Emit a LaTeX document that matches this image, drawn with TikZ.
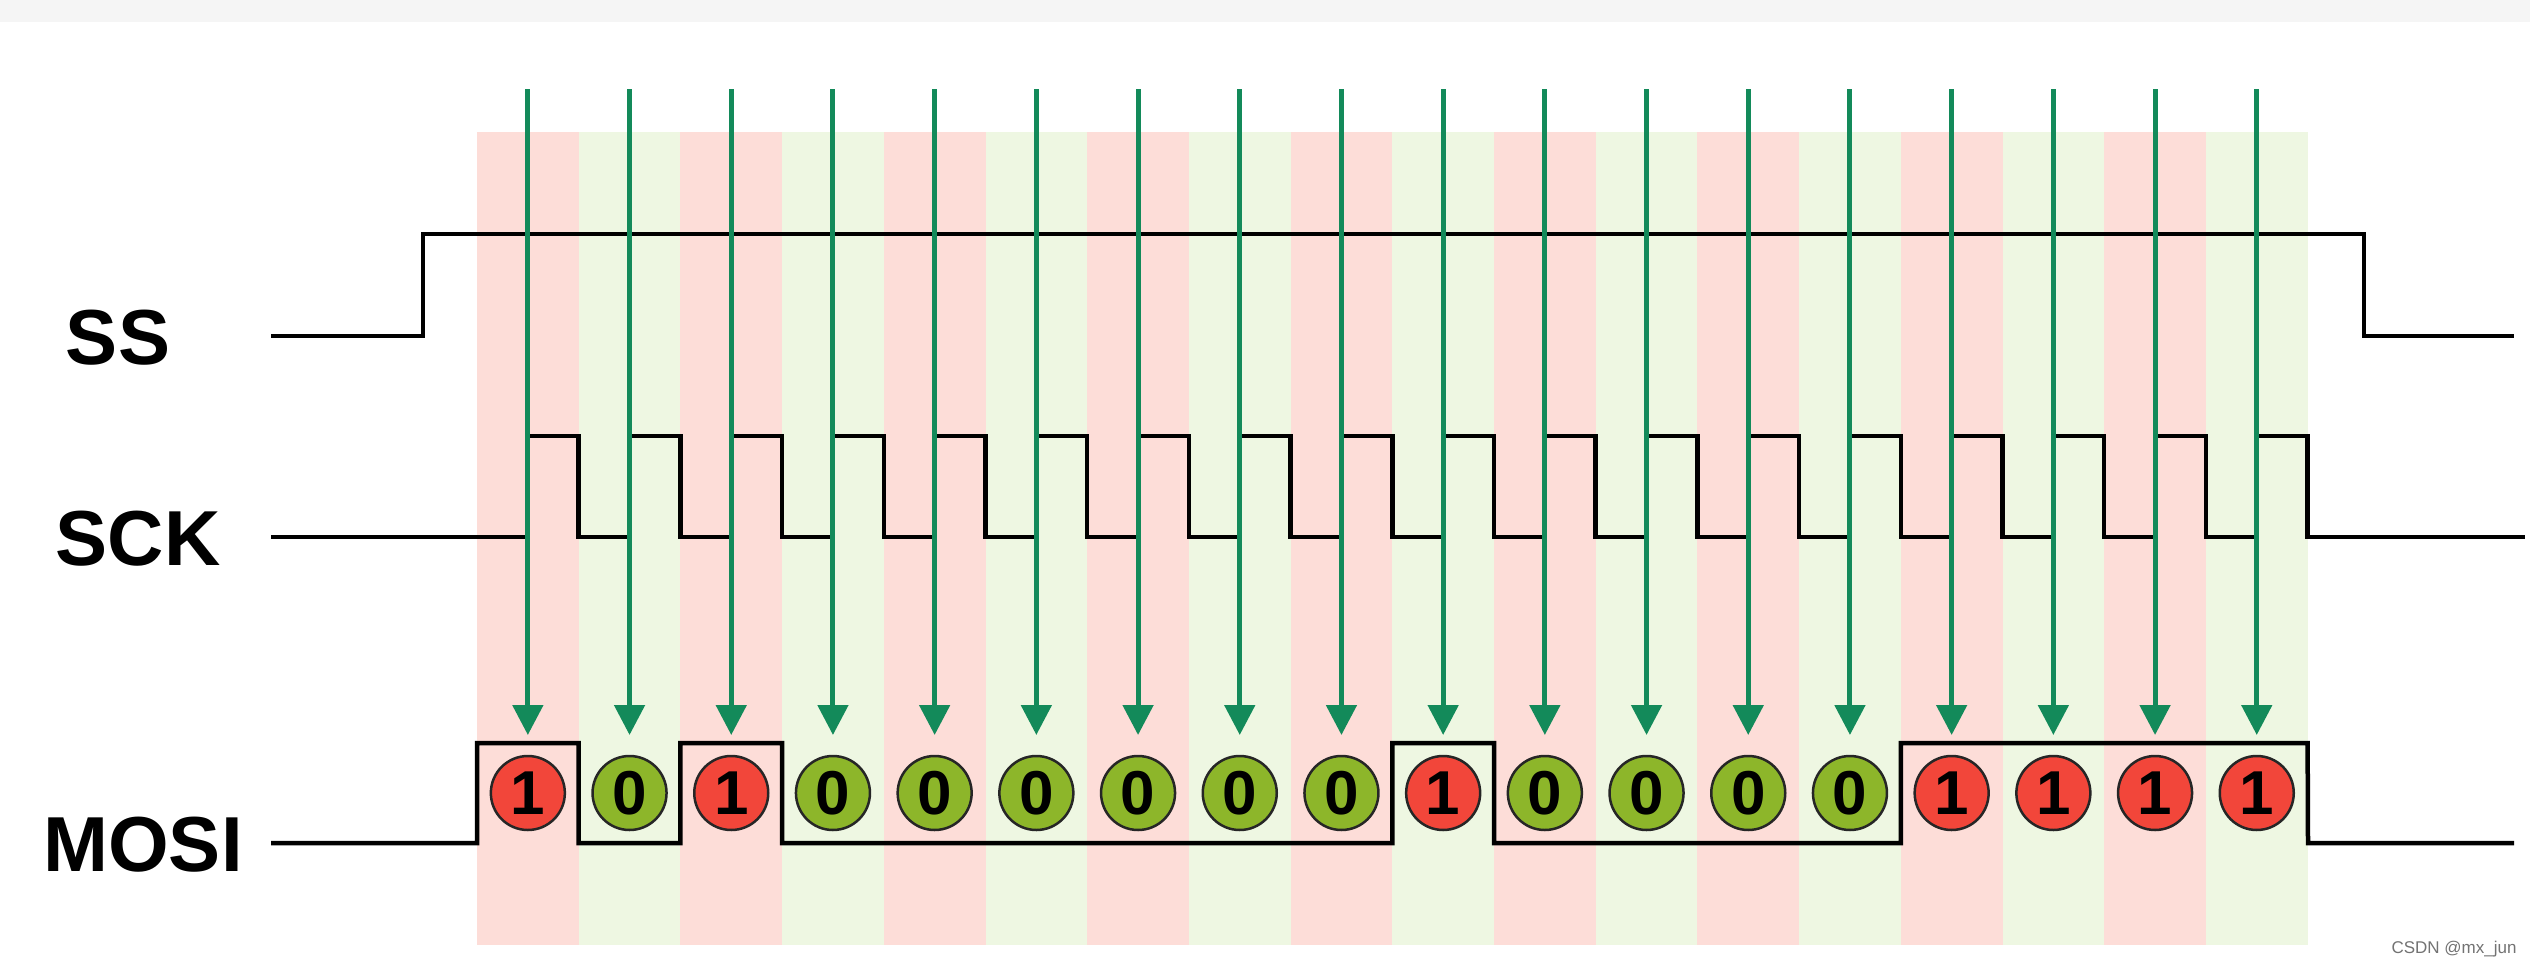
\documentclass[tikz,border=0pt]{standalone}
\usepackage{fontspec}
\setmainfont{Liberation Sans}
\usetikzlibrary{arrows.meta}
\definecolor{sred}{HTML}{FDDDD8}
\definecolor{sgrn}{HTML}{EEF7E2}
\definecolor{cred}{HTML}{F2463A}
\definecolor{cgrn}{HTML}{8DB62A}
\definecolor{arr}{HTML}{138A5A}
\tikzset{sig/.style={line width=4.5pt,black,line join=miter},
 lbl/.style={font=\fontsize{78}{78}\selectfont\bfseries,anchor=center},
 bitc/.style={circle,draw=black!85,line width=2.5pt,minimum size=74pt,inner sep=0pt,font=\fontsize{62}{62}\selectfont\bfseries},
 sarrow/.style={arr,line width=5pt,-{Triangle[length=30pt,width=30pt]}}}
\begin{document}
\begin{tikzpicture}[x=1pt,y=-1pt]
\useasboundingbox (0,0) rectangle (2530,966);
\fill[white] (0,0) rectangle (2530,966);
\fill[black!4] (0,0) rectangle (2530,22);
\def\w{101.7}
\foreach \k in {0,...,17}{
  \pgfmathsetmacro{\xa}{477+\k*\w}
  \pgfmathsetmacro{\xb}{477+(\k+1)*\w}
  \pgfmathtruncatemacro{\myodd}{mod(\k,2)}
  \ifnum\myodd=0 \fill[sred] (\xa,132) rectangle (\xb,945); \else \fill[sgrn] (\xa,132) rectangle (\xb,945);\fi
}
\node[lbl] (ss) at (118,338) {SS};
\node[lbl] (sck) at (138,539) {SCK};
\node[lbl] (mosi) at (143,845) {MOSI};
% SS
\draw[sig] (271,336) -- (423,336) -- (423,234) -- (2364,234) -- (2364,336) -- (2514,336);
% SCK
\draw[sig] (271,537)
 \foreach \k in {0,...,17}{ -- ({477+(\k+0.5)*\w},537) -- ({477+(\k+0.5)*\w},436) -- ({477+(\k+1)*\w},436) -- ({477+(\k+1)*\w},537)} -- (2525,537);
% MOSI
\def\bits{1,0,1,0,0,0,0,0,0,1,0,0,0,0,1,1,1,1}
\draw[sig] (271,843) -- (477,843)
 \foreach \b [count=\i from 0] in \bits { -- ({477+\i*\w},{843-100*\b}) -- ({477+(\i+1)*\w},{843-100*\b})} -- (2308,843) -- (2514,843);
\foreach \b [count=\i from 0] in \bits {
  \pgfmathsetmacro{\xc}{477+(\i+0.5)*\w}
  \coordinate (top\i) at (\xc,89);
  \coordinate (tip\i) at (\xc,735);
  \draw[sarrow] (top\i) -- (tip\i);
  \ifnum\b=1 \node[bitc,fill=cred] (b\i) at (\xc,793) {1};
  \else \node[bitc,fill=cgrn] (b\i) at (\xc,793) {0};\fi
}
\node[font=\fontsize{17}{17}\selectfont,text=black!55,anchor=east] (wm) at (2520,949) {CSDN @mx\_jun};
\end{tikzpicture}
\end{document}
